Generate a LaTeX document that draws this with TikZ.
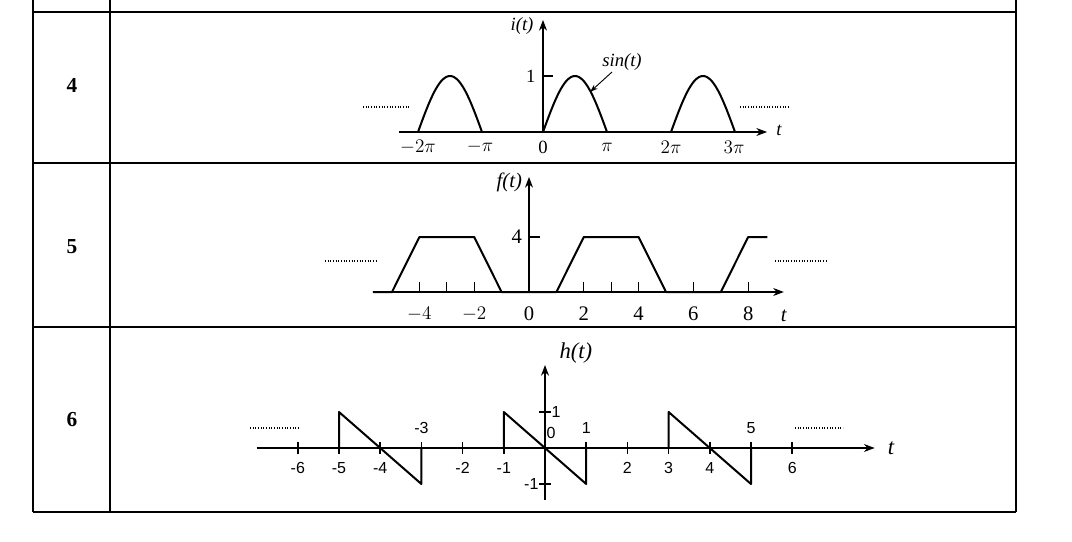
\documentclass[tikz,border=0pt]{standalone}
\usepackage{fontspec}
\setmainfont{Liberation Serif}
\newfontfamily\arialf{Liberation Sans}
\usetikzlibrary{arrows.meta}
\begin{document}
\begin{tikzpicture}[x=0.75pt,y=-0.75pt,
  grid/.style={line width=1.3pt},
  ax/.style={line width=0.8pt,-{Stealth[length=8pt,width=6pt]}},
  wave/.style={line width=1.5pt,line join=round},
  dots/.style={line width=1pt,dash pattern=on 0.8pt off 1.2pt},
  lab/.style={font=\fontsize{14}{14}\selectfont,inner sep=1pt},
  lab5/.style={font=\fontsize{15.5}{15.5}\selectfont,inner sep=1pt},
  slab/.style={font=\arialf\fontsize{12}{12}\selectfont,inner sep=1pt},
  rownum/.style={font=\bfseries\fontsize{16}{16}\selectfont}]
\useasboundingbox (0,0) rectangle (1072,542);
% table
\draw[grid] (33,0) -- (33,512) (110,0) -- (110,512) (1016,0) -- (1016,512);
\draw[grid] (33,12) -- (1016,12) (33,163) -- (1016,163) (33,327) -- (1016,327) (33,512) -- (1016,512);
\node[rownum] (r4) at (72,85) {4};
\node[rownum] (r5) at (72,247) {5};
\node[rownum] (r6) at (72,420) {6};
% ---------- row 4
\draw[ax] (399,132) -- (767,132);
\draw[ax] (543,132) -- (543,20);
\draw[line width=0.8pt] (543,76) -- (553,76);
\draw[wave] (399,132) -- (418,132);
\foreach \s in {418,543,671}{
  \draw[wave] plot[domain=0:180,samples=40,smooth] ({\s+64*\x/180},{132-56*sin(\x)});}
\draw[wave] (482,132) -- (543,132) (607,132) -- (671,132) (735,132) -- (745,132);
\node[lab,anchor=east] (i) at (535,26) {\itshape i(t)};
\node[lab,anchor=east] (one4) at (537,76) {1};
\node[lab] (sin) at (622,62) {\itshape sin(t)};
\draw[line width=0.7pt,-{Stealth[length=6pt,width=4pt]}] (612,72) -- (590,92);
\node[lab] at (418,147) {$-2\pi$};
\node[lab] at (480,147) {$-\pi$};
\node[lab] at (543,147) {0};
\node[lab] at (607,147) {$\pi$};
\node[lab] at (671,147) {$2\pi$};
\node[lab] at (734,147) {$3\pi$};
\node[lab] at (779,130) {\itshape t};
\draw[dots] (363,107) -- (410,107) (740,107) -- (789,107);
% ---------- row 5
\begin{scope}[shift={(529,292)},x=20.55pt,y=-0.75pt]
\draw[ax] (-5.7,0) -- (9.3,0);
\draw[ax] (0,0) -- (0,-115);
\foreach \k in {-4,-3,-2,2,3,4,6,8}{\draw[line width=0.8pt] (\k,0) -- (\k,-10);}
\draw[line width=0.8pt] (0,-55) -- (0.4,-55);
\draw[wave] (-5.7,0) -- (-5,0) -- (-4,-55) -- (-2,-55) -- (-1,0) -- (1,0) -- (2,-55) -- (4,-55) -- (5,0) -- (7,0) -- (8,-55) -- (8.7,-55);
\foreach \k/\t in {-4/$-4$,-2/$-2$,0/0,2/2,4/4,6/6,8/8}{\node[lab5] at (\k,22) {\t};}
\node[lab5] at (9.3,24) {\itshape t};
\node[lab5,anchor=east] at (-0.2,-55) {4};
\node[lab5,anchor=east] at (-0.2,-110) {\itshape f(t)};
\end{scope}
\draw[dots] (325,261) -- (378,261) (775,261) -- (826,261);
% ---------- row 6
\begin{scope}[shift={(545,448)},x=30.9pt,y=-0.75pt]
\draw[ax] (-7.0,0) -- (8.0,0);
\draw[line width=1.2pt,-{Stealth[length=8pt,width=6pt]}] (0,52) -- (0,-83);
\foreach \k in {-6,-5,-4,-3,-2,-1,1,2,3,4,5,6}{\draw[line width=1.2pt] (\k,-6) -- (\k,6);}
\draw[line width=1.2pt] (-0.15,-36) -- (0.15,-36) (-0.15,36) -- (0.15,36);
\foreach \s in {-4,0,4}{\draw[wave] (\s-1,0) -- (\s-1,-36) -- (\s+1,36) -- (\s+1,0);}
\foreach \k in {-6,-5,-4,-2,-1,2,3,4,6}{\node[slab] at (\k,20) {\k};}
\foreach \k in {-3,1,5}{\node[slab] at (\k,-20) {\k};}
\node[slab] at (0.15,-15) {0};
\node[slab,anchor=west] at (0.12,-36) {1};
\node[slab,anchor=east] at (-0.12,36) {-1};
\node[font=\itshape\fontsize{17}{17}\selectfont] at (0.75,-95) {h(t)};
\node[font=\itshape\fontsize{17}{17}\selectfont] at (8.4,0) {t};
\end{scope}
\draw[dots] (250,428) -- (300,428) (795,428) -- (843,428);
\end{tikzpicture}
\end{document}
